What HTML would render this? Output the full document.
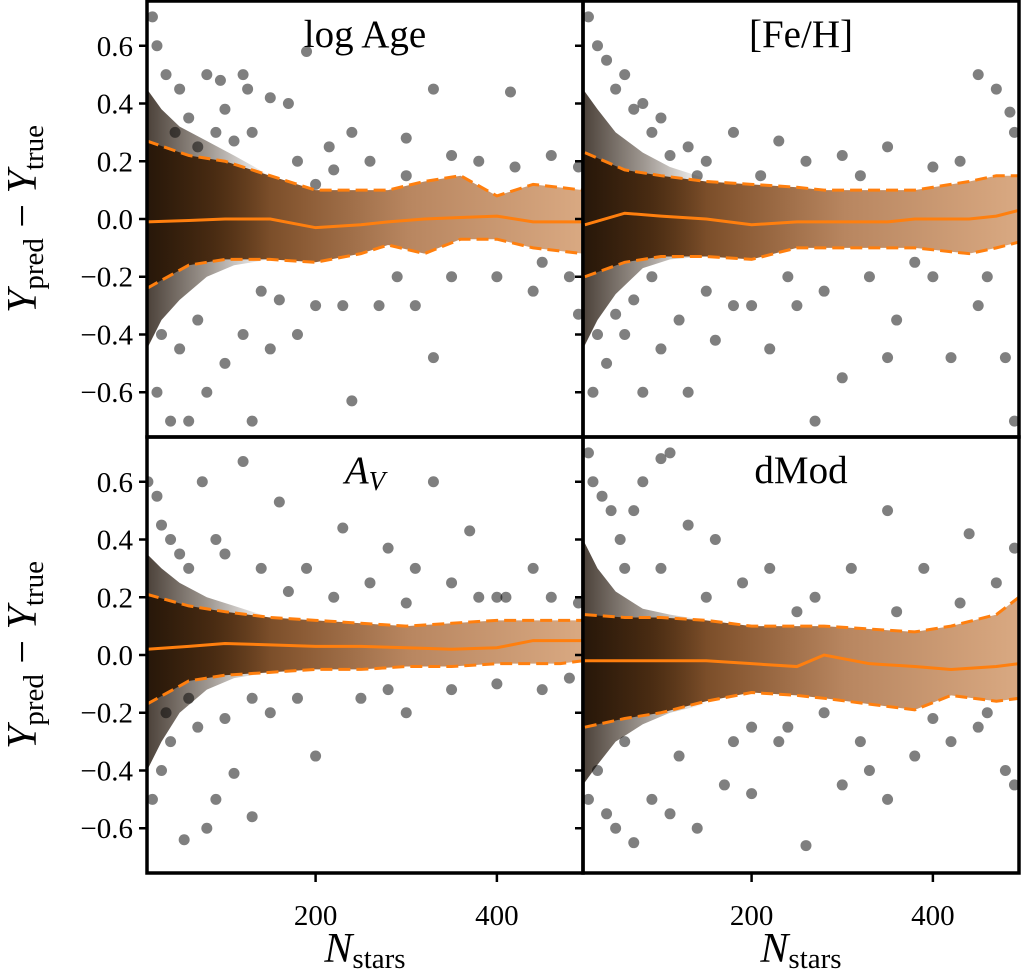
<!DOCTYPE html>
<html><head><meta charset="utf-8"><style>
body{margin:0;background:#fff}
svg text{font-family:"Liberation Serif","DejaVu Serif",serif;fill:#000}
</style></head><body>
<svg id="c" width="1022" height="971" xmlns="http://www.w3.org/2000/svg">
<defs>
<linearGradient id="bg" x1="0" x2="1" y1="0" y2="0">
<stop offset="0" stop-color="#4a2a0e"/><stop offset="0.15" stop-color="#5e3716"/><stop offset="0.35" stop-color="#8a5a34"/><stop offset="0.6" stop-color="#b88660"/><stop offset="1" stop-color="#d9a982"/>
</linearGradient>
<linearGradient id="cg" x1="0" x2="1" y1="0" y2="0">
<stop offset="0" stop-color="#1e1208" stop-opacity="0.8"/><stop offset="0.5" stop-color="#2a1a0c" stop-opacity="0.45"/><stop offset="1" stop-color="#2a1a0c" stop-opacity="0"/>
</linearGradient>
</defs>
</svg>
<script>
const xTicks=[200,400];
const yTicks=[0.6,0.4,0.2,0.0,-0.2,-0.4,-0.6];
const yTickLabels=["0.6","0.4","0.2","0.0","\u22120.2","\u22120.4","\u22120.6"];
const titles=["log Age","[Fe/H]","A","dMod"];
const bandX=[[14,60,100,150,200,250,280,320,360,400,440,495],[16,60,100,150,200,250,280,350,380,440,470,495],[14,60,100,150,200,250,300,350,400,440,470,495],[16,60,100,150,200,250,280,330,380,420,470,495]];
const bandUp=[[0.27,0.22,0.2,0.15,0.1,0.1,0.1,0.13,0.15,0.08,0.12,0.1],[0.23,0.17,0.15,0.13,0.12,0.11,0.1,0.1,0.1,0.13,0.15,0.15],[0.21,0.17,0.15,0.13,0.12,0.11,0.1,0.11,0.12,0.12,0.12,0.12],[0.14,0.13,0.13,0.12,0.1,0.1,0.1,0.09,0.08,0.1,0.14,0.2]];
const bandLo=[[-0.24,-0.16,-0.14,-0.14,-0.15,-0.12,-0.09,-0.12,-0.07,-0.07,-0.1,-0.12],[-0.2,-0.15,-0.13,-0.13,-0.14,-0.1,-0.1,-0.1,-0.1,-0.12,-0.1,-0.08],[-0.17,-0.09,-0.07,-0.06,-0.05,-0.05,-0.04,-0.04,-0.03,-0.03,-0.03,-0.02],[-0.25,-0.22,-0.2,-0.16,-0.13,-0.14,-0.15,-0.17,-0.19,-0.14,-0.16,-0.15]];
const bandMed=[[-0.01,-0.005,0,0,-0.03,-0.02,-0.01,0,0.005,0.01,-0.01,-0.01],[-0.02,0.02,0.01,0,-0.02,-0.01,-0.01,-0.01,0,0,0.01,0.03],[0.02,0.03,0.04,0.035,0.03,0.03,0.025,0.02,0.025,0.05,0.05,0.05],[-0.02,-0.02,-0.02,-0.02,-0.03,-0.04,0,-0.03,-0.04,-0.05,-0.04,-0.03]];
const cloudX=[14,30,50,80,110,150];
const cloudUp=[[0.45,0.38,0.32,0.27,0.22,0.15],[0.45,0.38,0.3,0.23,0.18,0.14],[0.35,0.3,0.25,0.2,0.17,0.13],[0.4,0.3,0.22,0.16,0.14,0.12]];
const cloudLo=[[-0.45,-0.35,-0.28,-0.2,-0.16,-0.14],[-0.45,-0.35,-0.26,-0.17,-0.14,-0.13],[-0.4,-0.3,-0.2,-0.12,-0.08,-0.06],[-0.45,-0.38,-0.3,-0.24,-0.2,-0.17]];
const ptsX=[
[20,25,35,50,60,80,95,100,120,125,130,150,170,190,215,240,300,330,350,380,415,460,490,230,240,200,180,150,120,100,80,60,40,25,30,330,270,400,440,480,490,350,130,70,160,290,300,260,220,450,420,180,200,110,90,50,45,70,140,310],
[20,30,40,50,60,70,80,90,100,110,130,150,180,210,230,260,300,350,400,450,470,485,490,25,30,40,50,60,80,100,120,130,160,180,200,220,250,270,300,350,400,420,450,480,490,330,280,240,150,140,320,380,460,70,90,430,360],
[15,25,30,40,50,60,75,90,100,120,140,160,190,230,280,310,330,350,380,400,460,490,20,30,40,55,80,90,110,130,150,200,180,250,300,350,400,450,480,70,100,130,260,440,410,220,170,60,35,300,370,280],
[20,25,35,45,55,70,80,100,110,130,160,190,220,270,310,350,390,440,470,490,20,30,40,50,70,90,110,140,170,200,230,260,300,330,350,380,420,450,480,490,60,120,180,240,320,400,460,280,150,430,360,250,100,60,200]];
const ptsY=[
[0.7,0.6,0.5,0.45,0.35,0.5,0.48,0.38,0.5,0.45,0.3,0.42,0.4,0.58,0.25,0.3,0.28,0.45,0.22,0.2,0.44,0.22,0.18,-0.3,-0.63,-0.3,-0.4,-0.45,-0.4,-0.5,-0.6,-0.7,-0.7,-0.6,-0.4,-0.48,-0.3,-0.2,-0.25,-0.2,-0.33,-0.2,-0.7,-0.35,-0.28,-0.2,0.15,0.2,0.17,-0.15,0.18,0.2,0.12,0.27,0.3,-0.45,0.3,0.25,-0.25,-0.3],
[0.7,0.6,0.55,0.45,0.5,0.38,0.4,0.3,0.35,0.22,0.25,0.2,0.3,0.15,0.27,0.2,0.22,0.25,0.18,0.5,0.45,0.37,0.3,-0.6,-0.4,-0.5,-0.33,-0.4,-0.6,-0.45,-0.35,-0.6,-0.42,-0.3,-0.3,-0.45,-0.3,-0.7,-0.55,-0.48,-0.2,-0.48,-0.3,-0.48,-0.7,-0.2,-0.25,-0.2,-0.25,0.15,0.15,-0.15,-0.2,-0.28,-0.2,0.2,-0.35],
[0.6,0.55,0.45,0.4,0.35,0.3,0.6,0.4,0.35,0.67,0.3,0.53,0.3,0.44,0.37,0.3,0.6,0.25,0.2,0.2,0.2,0.18,-0.5,-0.4,-0.3,-0.64,-0.6,-0.5,-0.41,-0.56,-0.2,-0.35,-0.15,-0.15,-0.2,-0.12,-0.1,-0.12,-0.08,-0.25,-0.22,-0.15,0.25,0.3,0.2,0.2,0.22,-0.15,-0.2,0.18,0.43,-0.12],
[0.7,0.6,0.55,0.5,0.4,0.5,0.6,0.68,0.7,0.45,0.4,0.25,0.3,0.2,0.3,0.5,0.3,0.42,0.25,0.37,-0.5,-0.4,-0.55,-0.6,-0.65,-0.5,-0.55,-0.6,-0.45,-0.48,-0.3,-0.66,-0.45,-0.4,-0.5,-0.35,-0.3,-0.25,-0.4,-0.45,-0.3,-0.35,-0.3,-0.25,-0.3,-0.22,-0.2,-0.2,0.2,0.18,0.15,0.15,0.3,0.3,-0.25]];

const NS="http://www.w3.org/2000/svg";
const svg=document.getElementById('c');
function mk(t,a,p){const e=document.createElementNS(NS,t);for(const k in a)e.setAttribute(k,a[k]);(p||svg).appendChild(e);return e;}
const panels=[{x0:147,y0:1,c:0,r:0},{x0:583,y0:1,c:1,r:0},{x0:147,y0:437,c:0,r:1},{x0:583,y0:437,c:1,r:1}];
const W=436,H=436,XMIN=14,XMAX=495,YMIN=-0.755,YMAX=0.755;
panels.forEach((P,i)=>{
  const sx=v=>P.x0+(v-XMIN)/(XMAX-XMIN)*W;
  const sy=v=>P.y0+(YMAX-v)/(YMAX-YMIN)*H;
  const g=mk('g',{'clip-path':'url(#cp'+i+')'});
  
  
  const cp=mk('clipPath',{id:'cp'+i});mk('rect',{x:P.x0,y:P.y0,width:W,height:H},cp);
  let d='M'+bandX[i].map((x,j)=>sx(x)+','+sy(bandUp[i][j])).join('L');
  for(let j=bandX[i].length-1;j>=0;j--)d+='L'+sx(bandX[i][j])+','+sy(bandLo[i][j]);
  const band=mk('path',{d:d+'Z',fill:'url(#bg)'},g);
  
  
  let cd='M'+cloudX.map((x,j)=>sx(x)+','+sy(cloudUp[i][j])).join('L');
  for(let j=cloudX.length-1;j>=0;j--)cd+='L'+sx(cloudX[j])+','+sy(cloudLo[i][j]);
  const cl=mk('path',{d:cd+'Z',fill:'url(#cg)'},g);
  
  
  ptsX[i].forEach((x,j)=>{
    const c=mk('circle',{cx:sx(x),cy:sy(ptsY[i][j]),r:5.5,fill:'#000','fill-opacity':0.5},g);
    
    
  });
  const line=(arr,dash,name)=>{const e=mk('polyline',{points:bandX[i].map((x,j)=>sx(x)+','+sy(arr[i][j])).join(' '),fill:'none',stroke:'#ff7f0e','stroke-width':3,'stroke-dasharray':dash},g);
    
    };
  line(bandUp,'12,6','upper-percentile-line');line(bandLo,'12,6','lower-percentile-line');line(bandMed,'none','median-line');
  const fr=mk('rect',{x:P.x0,y:P.y0,width:W,height:H,fill:'none',stroke:'#000','stroke-width':3.5});
  
  
  yTicks.forEach((v,j)=>{
    mk('line',{x1:P.x0-8,x2:P.x0,y1:sy(v),y2:sy(v),stroke:'#000','stroke-width':2.5});
    if(P.c===0){const t=mk('text',{x:P.x0-14,y:sy(v)+10,'text-anchor':'end','font-size':29});t.textContent=yTickLabels[j];
      
      }
  });
  if(P.r===1){xTicks.forEach(v=>{
    mk('line',{x1:sx(v),x2:sx(v),y1:P.y0+H,y2:P.y0+H+9,stroke:'#000','stroke-width':2.5});
    const t=mk('text',{x:sx(v),y:925,'text-anchor':'middle','font-size':29});t.textContent=v;
    
    });
    const xl=mk('text',{x:P.x0+W/2,y:962,'text-anchor':'middle','font-size':42});
    xl.innerHTML='<tspan font-style="italic">N</tspan><tspan font-size="29" dy="6">stars</tspan>';
    
    
  }
  const tt=mk('text',{x:P.x0+W/2,y:P.y0+46,'text-anchor':'middle','font-size':39});
  if(i===2)tt.innerHTML='<tspan font-style="italic">A</tspan><tspan font-style="italic" font-size="27" dy="7">V</tspan>';else tt.textContent=titles[i];
  
  
  if(P.c===0){const cy=P.y0+H/2;const yl=mk('text',{x:0,y:0,'text-anchor':'middle','font-size':42,transform:'translate(36,'+cy+') rotate(-90)'});
    yl.innerHTML='<tspan font-style="italic">Y</tspan><tspan font-size="29" dy="7">pred</tspan><tspan dy="-7"> \u2212 </tspan><tspan font-style="italic">Y</tspan><tspan font-size="29" dy="7">true</tspan>';
    
    }
});
</script>
</body></html>
